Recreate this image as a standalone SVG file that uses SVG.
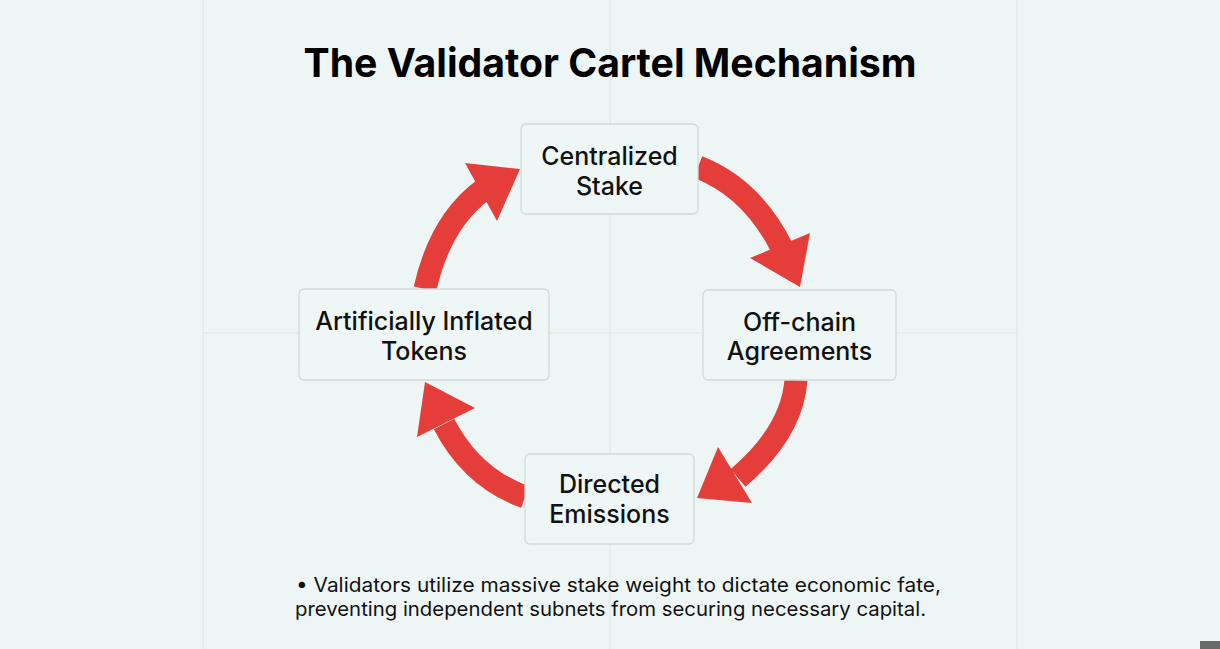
<svg xmlns="http://www.w3.org/2000/svg" width="1220" height="649" viewBox="0 0 1220 649">
<style>
.grid{stroke:#d9e8e6;stroke-width:1;fill:none}
.box{fill:#eef7f6;stroke:#cddcda;stroke-width:1.3}
.lbl{font-family:Inter,"Liberation Sans",sans-serif;font-size:25px;font-weight:500;fill:#111;text-anchor:middle}
.shaft{fill:none;stroke:#e53e3a;stroke-width:23}
.head{fill:#e53e3a}
</style>
<rect width="1220" height="649" fill="#eef6f5"/>
<g id="grid">
<line class="grid" x1="203" y1="0" x2="203" y2="649"/>
<line class="grid" x1="610" y1="0" x2="610" y2="649"/>
<line class="grid" x1="1017" y1="0" x2="1017" y2="649"/>
<line class="grid" x1="203" y1="333" x2="1017" y2="333"/>
</g>
<text x="610" y="77" font-family="Inter,'Liberation Sans',sans-serif" font-size="40" font-weight="bold" fill="#000" text-anchor="middle" textLength="613" lengthAdjust="spacingAndGlyphs">The Validator Cartel Mechanism</text>
<g id="connectors">
<path class="shaft" d="M698,167 Q752,188 782,248"/>
<polygon class="head" points="750,258 810,233 800,287"/>
<path class="shaft" d="M796,380 Q792,432 738,478"/>
<polygon class="head" points="718,447 752,503 697,498"/>
<path class="shaft" d="M525,497 Q472,478 444,424"/>
<polygon class="head" points="417,437 475,408 425,382"/>
<path class="shaft" d="M425,289 Q440,222 483,190"/>
<polygon class="head" points="465,163 497,221 520,169"/>
</g>
<g id="node-centralized">
<rect class="box" x="521" y="124" width="177" height="90" rx="5"/>
<text class="lbl" x="609.5" y="165">Centralized</text>
<text class="lbl" x="609.5" y="195">Stake</text>
</g>
<g id="node-offchain">
<rect class="box" x="703" y="290" width="193" height="90" rx="5"/>
<text class="lbl" x="799.5" y="331">Off-chain</text>
<text class="lbl" x="799.5" y="360">Agreements</text>
</g>
<g id="node-directed">
<rect class="box" x="525" y="454" width="169" height="90" rx="5"/>
<text class="lbl" x="609.5" y="493">Directed</text>
<text class="lbl" x="609.5" y="523">Emissions</text>
</g>
<g id="node-artificial">
<rect class="box" x="299" y="289" width="250" height="91" rx="5"/>
<text class="lbl" x="424" y="330">Artificially Inflated</text>
<text class="lbl" x="424" y="360">Tokens</text>
</g>
<g id="caption" font-family="Inter,'Liberation Sans',sans-serif" font-size="20" fill="#111">
<text x="296" y="592" textLength="645" lengthAdjust="spacingAndGlyphs">• Validators utilize massive stake weight to dictate economic fate,</text>
<text x="295" y="616" textLength="631" lengthAdjust="spacingAndGlyphs">preventing independent subnets from securing necessary capital.</text>
</g>
<rect x="1200" y="641" width="20" height="8" fill="#6a6a6a"/>
</svg>
